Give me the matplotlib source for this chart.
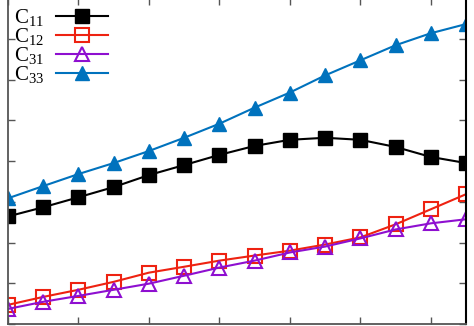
import matplotlib
matplotlib.use("Agg")
import matplotlib.pyplot as plt
import numpy as np

plt.rcParams['mathtext.fontset'] = 'custom'
plt.rcParams['mathtext.rm'] = 'Liberation Serif'
plt.rcParams['mathtext.default'] = 'rm'
plt.rcParams['font.family'] = ['Liberation Serif', 'DejaVu Serif']

x = np.arange(14)
c11 = [52.8, 57.3, 62.2, 67.2, 73.1, 78.0, 83.0, 87.4, 90.4, 91.4, 90.4, 86.9, 82.0, 79.0]
c12 = [9.4, 13.3, 16.8, 20.7, 25.2, 28.1, 31.1, 33.6, 36.0, 39.0, 42.5, 48.9, 56.3, 63.7]
c31 = [7.4, 10.9, 13.8, 16.8, 19.8, 23.7, 27.7, 31.1, 35.1, 38.0, 42.0, 46.4, 49.4, 51.4]
c33 = [61.7, 67.7, 73.6, 79.0, 84.9, 91.4, 98.3, 106.2, 113.6, 122.0, 129.4, 136.8, 142.7, 147.2]

fig = plt.figure(figsize=(4.74, 3.26), dpi=100)
ax = fig.add_axes([8 / 474, 2 / 326, 458 / 474, 326 / 326])

ax.plot(x, c11, color='black', lw=1.5, marker='s', ms=10.5, label=r'C$_{11}$')
ax.plot(x, c12, color='#EE2211', lw=1.5, marker='s', ms=10, mfc='none', mew=1.5,
        label=r'C$_{12}$')
ax.plot(x, c31, color='#8E0FD0', lw=1.5, marker='^', ms=10, mfc='none', mew=1.5,
        label=r'C$_{31}$')
ax.plot(x, c33, color='#0072BD', lw=1.5, marker='^', ms=10, label=r'C$_{33}$')

ax.set_xlim(0, 13)
ax.set_ylim(0, 160)
ax.set_xticks(np.arange(0, 13, 2))
ax.set_yticks(np.arange(0, 161, 20))
ax.tick_params(direction='in', length=5, width=1, color='#555555',
               top=True, right=True, labelleft=False, labelbottom=False)
for s in ['left', 'bottom']:
    ax.spines[s].set_color('#555555')
    ax.spines[s].set_linewidth(1.3)
ax.spines['right'].set_linewidth(1.5)
ax.spines['top'].set_visible(False)

ax.legend(loc='upper left', bbox_to_anchor=(14 / 474, 1 - 7 / 326),
          bbox_transform=fig.transFigure,
          frameon=False, markerfirst=False, fontsize=15, handlelength=2.5,
          handletextpad=0.55, labelspacing=-0.09, borderpad=0.0, borderaxespad=0.0)

fig.savefig('out.png', dpi=100)
